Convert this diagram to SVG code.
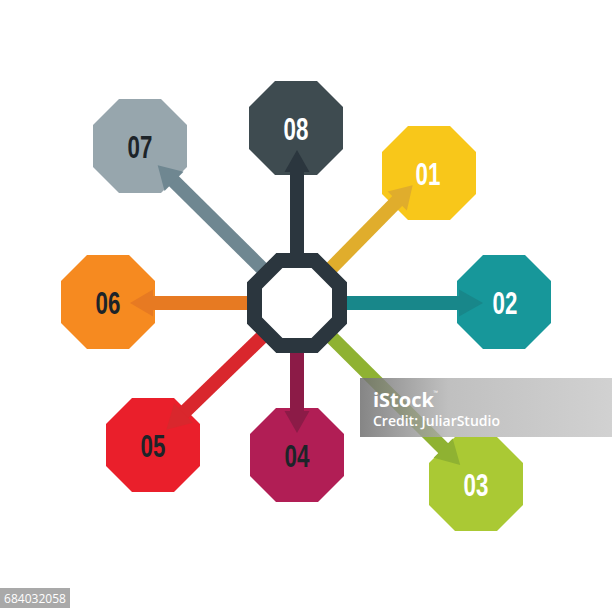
<svg xmlns="http://www.w3.org/2000/svg" xmlns:xlink="http://www.w3.org/1999/xlink" width="612" height="612" viewBox="0 0 612 612">
<style>
.num{font-family:"Liberation Sans",Arial,sans-serif;font-weight:bold;font-size:31px;text-anchor:middle}
.w{fill:#ffffff}.d{fill:#1d2429}
</style>
<defs>
<path id="oct" d="M-21,-47 L21,-47 L47,-21 L47,21 L21,47 L-21,47 L-47,21 L-47,-21Z"/>
<linearGradient id="wm" x1="0" y1="0" x2="1" y2="0">
<stop offset="0" stop-color="#707070" stop-opacity="0.85"/>
<stop offset="0.35" stop-color="#b0b0b0" stop-opacity="0.8"/>
<stop offset="1" stop-color="#c6c6c6" stop-opacity="0.8"/>
</linearGradient>
</defs>
<rect width="612" height="612" fill="#ffffff"/>
<g id="node-07"><use xlink:href="#oct" x="140" y="146" fill="#97a6ad"/><text class="num d" transform="translate(140,158) scale(0.72,1)">07</text></g>
<g id="node-08"><use xlink:href="#oct" x="296" y="128" fill="#3e4b50"/><text class="num w" transform="translate(296,140) scale(0.72,1)">08</text></g>
<g id="node-01"><use xlink:href="#oct" x="429" y="173" fill="#f8c71a"/><text class="num w" transform="translate(428,185) scale(0.72,1)">01</text></g>
<g id="node-02"><use xlink:href="#oct" x="504" y="302" fill="#17979a"/><text class="num w" transform="translate(505,314) scale(0.72,1)">02</text></g>
<g id="node-06"><use xlink:href="#oct" x="108" y="302" fill="#f68a20"/><text class="num d" transform="translate(108,314) scale(0.72,1)">06</text></g>
<g id="node-05"><use xlink:href="#oct" x="153" y="445" fill="#ea1f2b"/><text class="num d" transform="translate(153,457) scale(0.72,1)">05</text></g>
<g id="node-04"><use xlink:href="#oct" x="297" y="455" fill="#b11e55"/><text class="num d" transform="translate(297,467) scale(0.72,1)">04</text></g>
<g id="node-03"><use xlink:href="#oct" x="476" y="484" fill="#aac934"/><text class="num w" transform="translate(476,496) scale(0.72,1)">03</text></g>
<g id="connectors">
<g transform="translate(297,303) rotate(-90)" fill="#2b363e"><rect x="30" y="-7" width="105" height="14"/><polygon points="131,-12.5 153,0 131,12.5"/></g>
<g transform="translate(297,303) rotate(-135.3)" fill="#6f8791"><rect x="30" y="-7" width="147" height="14"/><polygon points="173,-13.5 196,0 173,13.5"/></g>
<g transform="translate(297,303) rotate(-45.5)" fill="#e0ad2c"><rect x="30" y="-7" width="117" height="14"/><polygon points="143,-13.5 165,0 143,13.5"/></g>
<g transform="translate(297,303)" fill="#18878a"><rect x="30" y="-7" width="136" height="14"/><polygon points="162,-13.5 186,0 162,13.5"/></g>
<g transform="translate(297,303) rotate(180)" fill="#e77a22"><rect x="30" y="-7" width="118" height="14"/><polygon points="144,-13.5 167,0 144,13.5"/></g>
<g transform="translate(297,303) rotate(135.9)" fill="#d9272d"><rect x="30" y="-7" width="132" height="14"/><polygon points="158,-13.5 182,0 158,13.5"/></g>
<g transform="translate(297,303) rotate(90)" fill="#8c1b47"><rect x="30" y="-7" width="82" height="14"/><polygon points="108,-12.5 130,0 108,12.5"/></g>
<g transform="translate(297,303) rotate(44.8)" fill="#8fb232"><rect x="30" y="-7" width="180" height="14"/><polygon points="206,-13.5 230,0 206,13.5"/></g>
</g>
<g id="hub"><path d="M-17.6,-42.5 L17.6,-42.5 L42.5,-17.6 L42.5,17.6 L17.6,42.5 L-17.6,42.5 L-42.5,17.6 L-42.5,-17.6Z" transform="translate(297,303)" fill="#ffffff" stroke="#2b363e" stroke-width="15" stroke-linejoin="miter"/></g>
<g id="watermark">
<rect x="360" y="378" width="252" height="59" fill="url(#wm)"/>
<text x="373" y="407" font-family="'Open Sans','Liberation Sans',sans-serif" font-weight="bold" font-size="20" fill="#ffffff">iStock</text>
<text x="433" y="394" font-family="'Liberation Sans',sans-serif" font-size="5" fill="#ffffff">™</text>
<text x="373" y="426" font-family="'Open Sans','Liberation Sans',sans-serif" font-weight="600" font-size="14" fill="#ffffff">Credit: JuliarStudio</text>
<rect x="0" y="588" width="70" height="20" fill="#a9a9a9"/>
<text x="35" y="602.5" text-anchor="middle" font-family="'Open Sans','Liberation Sans',sans-serif" font-size="12" fill="#ffffff">684032058</text>
</g>
</svg>
